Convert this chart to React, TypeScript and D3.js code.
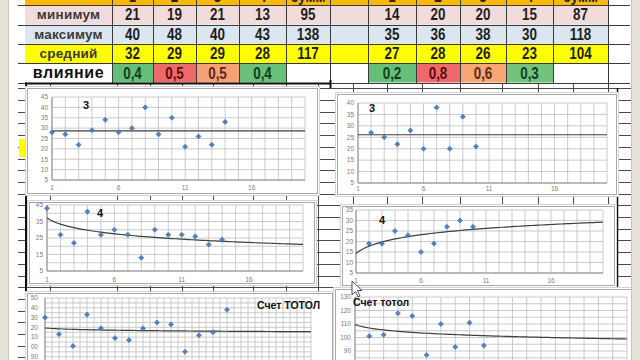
import React from "react";
import * as d3 from "d3";

// ---------- table data ----------
const headLabels = ["1", "2", "3", "4", "сумм"];
const rowLabels = ["минимум", "максимум", "средний", "влияние"];
const minA = [21, 19, 21, 13, 95];
const maxA = [40, 48, 40, 43, 138];
const avgA = [32, 29, 29, 28, 117];
const inflA = ["0,4", "0,5", "0,5", "0,4", ""];
const minB = [14, 20, 20, 15, 87];
const maxB = [35, 36, 38, 30, 118];
const avgB = [27, 28, 26, 23, 104];
const inflB = ["0,2", "0,8", "0,6", "0,3", ""];

// ---------- chart data ----------
const xFull = [1, 2, 3, 4, 5, 6, 7, 8, 9, 10, 11, 12, 13, 14];
const xShort = [2, 3, 4, 5, 6, 7, 8, 9, 10];
const chartA3 = [28, 27, 22, 29, 34, 28, 30, 40, 27, 35, 21, 26, 22, 33];
const chartB3 = [27, 25, 22, 28, 20, 38, 20, 34, 21];
const chartA4 = [43, 27, 22, 41, 27, 30, 27, 13, 30, 27, 27, 26, 21, 24];
const chartB4 = [19, 19, 25, 23, 15, 19, 27, 30, 27];
const chartATotal = [130, 113, 101, 133, 119, 109, 107, 119, 125, 123, 95, 112, 115, 138];
const chartBTotal = [101, 102, 118, 116, 87, 110, 93, 111, 94];
const xTickLabels = [1, 6, 11, 16];
const chartTitles = ["3", "3", "4", "4", "Счет ТОТОЛ", "Счет тотол"];

// ---------- styles / layout ----------
const rowFills = ["#f2dcdb", "#dce6f1", "#ffff00", "#ffffff"];
const inflFillsA = ["#66bf78", "#ee6a6a", "#f6a076", "#69c07a", "#ffffff"];
const inflFillsB = ["#66bf78", "#ee6a6a", "#f7a675", "#74c37c", "#ffffff"];
const inflTextA = ["#123d1c", "#5c0c0c", "#5a2a12", "#123d1c", "#000"];
const inflTextB = ["#123d1c", "#5c0c0c", "#5a2a12", "#123d1c", "#000"];
const colEdges = [112, 153, 196, 239, 286, 330, 368, 416, 460, 506, 553, 608];
const numFont = "'Liberation Sans', Arial, sans-serif";
const sansFont = "'Liberation Sans', Arial, sans-serif";

const charts = [
  { title: chartTitles[0], xs: xFull, ys: chartA3, trend: "mean", frame: [27, 88, 318, 194], plot: [52, 97, 305, 180], yDom: [5, 45], yLab: 5, yGrid: 5, xGrid: 1, titleAt: [86, 109], anchor: "middle", tsize: 11, xLabY: 190, labOff: 4 },
  { title: chartTitles[1], xs: xShort, ys: chartB3, trend: "mean", frame: [337, 94, 617, 195], plot: [358, 103, 607, 183], yDom: [5, 40], yLab: 5, yGrid: 5, xGrid: 1, titleAt: [372, 112], anchor: "middle", tsize: 11, xLabY: 191, labOff: 4 },
  { title: chartTitles[2], xs: xFull, ys: chartA4, trend: "log", frame: [29, 202, 315, 284], plot: [47, 205, 303, 271], yDom: [5, 45], yLab: 10, yGrid: 5, xGrid: 1, titleAt: [100, 217], anchor: "middle", tsize: 11, xLabY: 282, labOff: 4 },
  { title: chartTitles[3], xs: xShort, ys: chartB4, trend: "log", frame: [342, 206, 615, 286], plot: [356, 210, 603, 273], yDom: [5, 35], yLab: 5, yGrid: 5, xGrid: 1, titleAt: [382, 224], anchor: "middle", tsize: 11, xLabY: 283, labOff: 3 },
  { title: chartTitles[4], xs: xFull, ys: chartATotal, trend: "log", frame: [27, 293, 333, 372], plot: [45, 298, 311, 366.5], yDom: [80, 150], yLab: 10, yGrid: 5, xGrid: 0.5, titleAt: [320, 309], anchor: "end", tsize: 10.5, xLabY: null, labelClip: 31, labOff: 7 },
  { title: chartTitles[5], xs: xShort, ys: chartBTotal, trend: "log", frame: [335, 289, 632, 372], plot: [355, 297, 627, 364.5], yDom: [80, 130], yLab: 10, yGrid: 5, xGrid: 1, titleAt: [353, 306], anchor: "start", tsize: 10.5, xLabY: null, labelClip: 339, labOff: 4 },
];

function logFit(xs: number[], ys: number[]) {
  const lx = xs.map(Math.log);
  const mx = d3.mean(lx) as number;
  const my = d3.mean(ys) as number;
  const sxy = d3.sum(lx, (v, i) => (v - mx) * (ys[i] - my));
  const sxx = d3.sum(lx, (v) => (v - mx) ** 2);
  const b = sxy / sxx;
  const a = my - b * mx;
  return (t: number) => a + b * Math.log(t);
}

function Chart({ c, id }: { c: any; id: number }) {
  const [fx0, fy0, fx1, fy1] = c.frame;
  const [px0, py0, px1, py1] = c.plot;
  const x = d3.scaleLinear().domain([1, 20]).range([px0, px1]);
  const y = d3.scaleLinear().domain(c.yDom).range([py1, py0]);
  const yGridVals = d3.range(c.yDom[0], c.yDom[1] + 0.001, c.yGrid);
  const yLabVals = d3.range(c.yDom[0], c.yDom[1] + 0.001, c.yLab);
  const xGridVals = d3.range(1, 20.001, c.xGrid);
  const fn =
    c.trend === "mean"
      ? ((m: number) => () => m)(d3.mean(c.ys) as number)
      : logFit(c.xs, c.ys);
  const tx = d3.range(1, 20.001, 0.25);
  const line = d3
    .line<number>()
    .x((t) => x(t))
    .y((t) => y(fn(t)));
  const diamond = d3.symbol().type(d3.symbolSquare).size(13)();
  const clipId = `fr${id}`;
  const labClip = `lc${id}`;
  const lc = c.labelClip ?? fx0;
  return (
    <g>
      <defs>
        <clipPath id={clipId}>
          <rect x={fx0} y={fy0} width={fx1 - fx0} height={fy1 - fy0} />
        </clipPath>
        <clipPath id={labClip}>
          <rect x={lc} y={fy0} width={fx1 - lc} height={fy1 - fy0} />
        </clipPath>
      </defs>
      <rect x={fx0 - 1.5} y={fy0 - 1.5} width={fx1 - fx0 + 3} height={fy1 - fy0 + 3} fill="#ffffff" stroke="#d4d4d4" strokeWidth={1} />
      <rect x={fx0 + 0.5} y={fy0 + 0.5} width={fx1 - fx0 - 1} height={fy1 - fy0 - 1} fill="#ffffff" stroke="#a9a9a9" strokeWidth={1} />
      <g clipPath={`url(#${clipId})`}>
        {xGridVals.map((v) => (
          <line key={"xg" + v} x1={x(v)} x2={x(v)} y1={py0} y2={py1} stroke="#c4c4c4" strokeWidth={0.9} />
        ))}
        {yGridVals.map((v) => (
          <line key={"yg" + v} x1={px0} x2={px1} y1={y(v)} y2={y(v)} stroke="#c4c4c4" strokeWidth={0.9} />
        ))}
        <line x1={px0} x2={px0} y1={py0} y2={py1} stroke="#8c8c8c" strokeWidth={1} />
        <line x1={px0} x2={px1} y1={py1} y2={py1} stroke="#8c8c8c" strokeWidth={1} />
        <g clipPath={`url(#${labClip})`}>
          {yLabVals.map((v) => (
            <text key={"yl" + v} x={px0 - c.labOff} y={y(v)} dy="0.35em" textAnchor="end" fontSize={6.5} fill="#7a7a7a" fontFamily={sansFont}>
              {v}
            </text>
          ))}
        </g>
        {c.xLabY != null &&
          xTickLabels.map((v) => (
            <text key={"xl" + v} x={x(v)} y={c.xLabY} textAnchor="middle" fontSize={6.5} fill="#7a7a7a" fontFamily={sansFont}>
              {v}
            </text>
          ))}
        <path d={line(tx) ?? ""} fill="none" stroke="#3f3f3f" strokeWidth={1.2} />
        {c.xs.map((xv: number, i: number) => (
          <path key={"p" + i} d={diamond ?? ""} transform={`translate(${x(xv)},${y(c.ys[i])}) rotate(45)`} fill="#4f81bd" stroke="#3b6aa3" strokeWidth={0.5} />
        ))}
        <text x={c.titleAt[0]} y={c.titleAt[1]} textAnchor={c.anchor} fontSize={c.tsize} fontWeight="bold" fill="#111" fontFamily={sansFont}>
          {c.title}
        </text>
      </g>
    </g>
  );
}

function Num({ cx, cy, v, fill }: { cx: number; cy: number; v: any; fill: string }) {
  return (
    <g transform={`translate(${cx},${cy}) scale(0.84,1)`}>
      <text x={0} y={0} dy="0.36em" textAnchor="middle" fontSize={16} fontWeight="bold" fill={fill} fontFamily={numFont}>
        {v}
      </text>
    </g>
  );
}

export default function App() {
  const rowY = d3.scaleBand<string>().domain(rowLabels).range([5, 82.5]);
  const groups = [
    { start: 0, rows: [minA, maxA, avgA], infl: inflA, fills: inflFillsA, tcol: inflTextA },
    { start: 6, rows: [minB, maxB, avgB], infl: inflB, fills: inflFillsB, tcol: inflTextB },
  ];
  const sheetRows = d3.range(0, 24).map((k) => 88.3 + 11.7 * k);
  const sheetCols = [50, 117, 150, 182, 213, 253, 286, 318, 353, 387, 422, 460, 502, 538, 573, 608];
  const bw = rowY.bandwidth();
  const cellX = (g: any, i: number) => (colEdges[g.start + i] + colEdges[g.start + i + 1]) / 2;
  return (
    <svg width={640} height={360} style={{ position: "absolute", left: 0, top: 0, background: "#fff" }}>
      <rect x={0} y={0} width={640} height={360} fill="#ffffff" />
      {/* spreadsheet grid below table */}
      {sheetRows.map((yy, i) => (
        <line key={"sr" + i} x1={18} x2={632} y1={Math.round(yy) + 0.5} y2={Math.round(yy) + 0.5} stroke="#4a4a4a" strokeWidth={1} />
      ))}
      {sheetCols.map((xx, i) => (
        <line key={"sc" + i} x1={xx + 0.5} x2={xx + 0.5} y1={83} y2={360} stroke="#4a4a4a" strokeWidth={1} />
      ))}
      <rect x={19} y={139} width={7} height={18} fill="#ffff00" />
      <line x1={617.5} x2={617.5} y1={88} y2={290} stroke="#111" strokeWidth={1.5} />
      <line x1={26} x2={26} y1={82} y2={292} stroke="#111" strokeWidth={2} />

      {/* table header strip */}
      <rect x={25} y={0} width={583} height={5} fill="#f9b90b" />
      {groups.map((g, gi) =>
        headLabels.map((h, i) => (
          <g key={"h" + gi + i} transform={`translate(${cellX(g, i)},2) scale(0.84,1)`}>
            <text x={0} y={0} textAnchor="middle" fontSize={16} fontWeight="bold" fill="#222" fontFamily={numFont}>
              {h}
            </text>
          </g>
        ))
      )}
      {/* row backgrounds */}
      {rowLabels.map((r, ri) => (
        <rect key={"rb" + ri} x={25} y={rowY(r)} width={583} height={bw} fill={rowFills[ri]} />
      ))}
      {/* influence cells */}
      {groups.map((g, gi) =>
        g.infl.map((v, i) => (
          <rect key={"ic" + gi + i} x={colEdges[g.start + i]} y={rowY("влияние")} width={colEdges[g.start + i + 1] - colEdges[g.start + i]} height={bw} fill={g.fills[i]} />
        ))
      )}
      {/* table lines */}
      {[5, 24.5, 43.5, 62.5, 82.5].map((yy, i) => (
        <line key={"tl" + i} x1={18} x2={630} y1={Math.round(yy) + 0.5} y2={Math.round(yy) + 0.5} stroke="#3a3a3a" strokeWidth={1} />
      ))}
      {colEdges.map((xx, i) => (
        <line key={"tc" + i} x1={xx + 0.5} x2={xx + 0.5} y1={0} y2={i === colEdges.length - 1 ? 88 : 83} stroke="#3a3a3a" strokeWidth={1} />
      ))}
      <line x1={25} x2={331} y1={83.5} y2={83.5} stroke="#111" strokeWidth={2} />
      <line x1={330.5} x2={330.5} y1={80} y2={88} stroke="#111" strokeWidth={2} />
      {/* row labels */}
      {rowLabels.map((r, ri) => (
        <text key={"rl" + ri} x={68.5} y={(rowY(r) as number) + bw / 2} dy="0.35em" textAnchor="middle" fontSize={ri === 3 ? 16 : 13.5} fontWeight="bold" fill={ri === 3 ? "#111" : "#3a3a3a"} fontFamily={sansFont} letterSpacing={ri === 3 ? 0.6 : 0.2}>
          {r}
        </text>
      ))}
      {/* numbers */}
      {groups.map((g, gi) =>
        g.rows.map((row, ri) =>
          row.map((v, i) => (
            <Num key={"n" + gi + ri + i} cx={cellX(g, i)} cy={(rowY(rowLabels[ri]) as number) + bw / 2} v={v} fill="#1e1e1e" />
          ))
        )
      )}
      {groups.map((g, gi) =>
        g.infl.map((v, i) => (
          <Num key={"iv" + gi + i} cx={cellX(g, i)} cy={(rowY("влияние") as number) + bw / 2} v={v} fill={g.tcol[i]} />
        ))
      )}

      {/* charts */}
      {charts.map((c, i) => (
        <Chart key={i} c={c} id={i} />
      ))}

      {/* mouse cursor */}
      <path d="M352,281 L352,295 L355.5,291.5 L358,297 L360,296 L357.5,290.5 L362,290.5 Z" fill="#ffffff" stroke="#222" strokeWidth={0.8} />

      {/* window side strips */}
      <rect x={0} y={0} width={8} height={360} fill="#e6e2d8" />
      <line x1={8.5} x2={8.5} y1={0} y2={360} stroke="#c9c4b6" />
      <rect x={632} y={0} width={8} height={360} fill="#e6e2d8" />
      <line x1={631.5} x2={631.5} y1={0} y2={360} stroke="#c9c4b6" />
    </svg>
  );
}
